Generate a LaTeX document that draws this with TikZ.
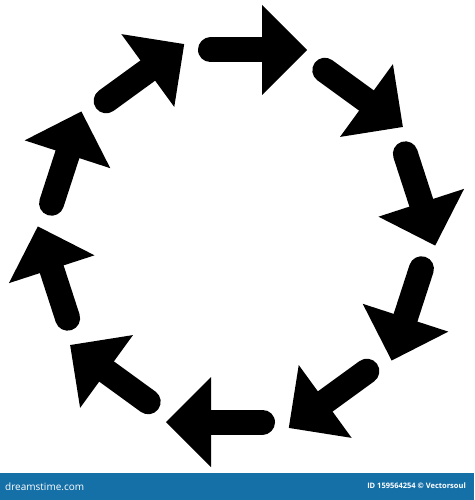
\documentclass[tikz,border=0pt]{standalone}
\usepackage{fontspec}
\setmainfont{Open Sans}
\definecolor{barblue}{RGB}{22,112,168}
\tikzset{
  shaft/.style={line width=25pt, line cap=round, draw=black},
  head/.style={fill=black, draw=none},
  bartext/.style={text=white, inner sep=0pt, font=\sffamily}
}
\begin{document}
\begin{tikzpicture}[x=1pt,y=-1pt]
  \useasboundingbox (0,0) rectangle (474,500);
  \fill[white] (0,0) rectangle (474,500);
  \coordinate (c) at (236.5,236);
  \foreach \k in {0,...,9}{
    \begin{scope}[rotate around={-36*\k:(c)}]
      \coordinate (tail) at (210.5,50);
      \coordinate (neck) at (264,50);
      \draw[shaft] (tail) -- (neck);
      \fill[head] (262,5) -- (307,50) -- (262,95) -- cycle;
    \end{scope}
  }
  \fill[barblue] (0,473) rectangle (474,500);
  \node[bartext, anchor=west, font=\fontsize{10}{12}\selectfont] (brand) at (5,486.5) {dreamstime.com};
  \node[bartext, anchor=east, font=\fontsize{7.5}{9}\selectfont\bfseries] (credit) at (466,486) {ID 159564254 © Vectorsoul};
\end{tikzpicture}
\end{document}
